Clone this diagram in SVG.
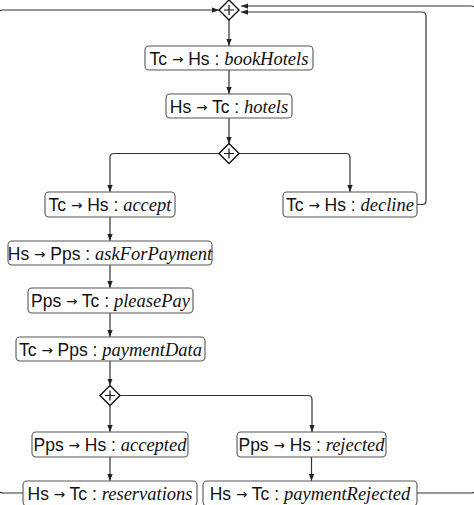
<svg xmlns="http://www.w3.org/2000/svg" width="474" height="505" viewBox="0 0 474 505">
<defs>
<style>
.box{fill:#fff;stroke:#555;stroke-width:1.1}
.gw{fill:#fff;stroke:#111;stroke-width:1.4}
.plus{stroke:#111;stroke-width:1.2}
.c{fill:none;stroke:#333;stroke-width:1.2}
.a{marker-end:url(#ah)}
text{font-size:17.5px;fill:#111;text-anchor:middle}
.r{font-family:"Liberation Sans","DejaVu Sans",sans-serif}
.ar{font-family:"DejaVu Sans",sans-serif;font-size:13.5px}
.m{font-family:"Liberation Serif","DejaVu Serif",serif;font-style:italic;font-size:18.5px}
</style>
<marker id="ah" viewBox="0 0 8 6" refX="8" refY="3" markerWidth="7" markerHeight="5.5" markerUnits="userSpaceOnUse" orient="auto">
<path d="M0,0 L8,3 L0,6 z" fill="#222"/>
</marker>
</defs>
<g id="connectors">
<path class="c a" d="M229,20 V46"/>
<path class="c a" d="M229,70 V94"/>
<path class="c a" d="M229,118 V144"/>
<path class="c a" d="M219,153.5 H114 Q110,153.5 110,157.5 V192"/>
<path class="c a" d="M239,153.5 H346 Q350,153.5 350,157.5 V192"/>
<path class="c a" d="M110,217 V241"/>
<path class="c a" d="M110,265 V288"/>
<path class="c a" d="M110,313 V337"/>
<path class="c a" d="M110,361 V385.5"/>
<path class="c a" d="M110,405.5 V432"/>
<path class="c a" d="M120,395.5 H308 Q312,395.5 312,399.5 V432"/>
<path class="c a" d="M110,457 V481"/>
<path class="c a" d="M311.5,457 V481"/>
<path class="c a" d="M417,204.5 H422 Q426,204.5 426,200.5 V16 Q426,12 422,12 H241"/>
<path class="c a" d="M23,493 H3 Q-2,493 -2,488 V15 Q-2,10 3,10 H219"/>
<path class="c a" d="M417,493 H471 Q476,493 476,488 V11 Q476,6 471,6 H241"/>
</g>
<g id="gw1"><path class="gw" d="M229,0 L239,10 L229,20 L219,10 z"/><path class="plus" d="M224,10 H234 M229,5 V15"/></g>
<g id="gw2"><path class="gw" d="M229,143.5 L239,153.5 L229,163.5 L219,153.5 z"/><path class="plus" d="M224,153.5 H234 M229,148.5 V158.5"/></g>
<g id="gw3"><path class="gw" d="M110,385.5 L120,395.5 L110,405.5 L100,395.5 z"/><path class="plus" d="M105,395.5 H115 M110,390.5 V400.5"/></g>
<g id="bookHotels"><rect class="box" x="145" y="46" width="168" height="24" rx="4"/><text x="229" y="64.5"><tspan class="r">Tc </tspan><tspan class="ar" dy="-1">→</tspan><tspan class="r" dy="1"> Hs : </tspan><tspan class="m">bookHotels</tspan></text></g>
<g id="hotels"><rect class="box" x="166" y="94" width="126" height="24" rx="4"/><text x="229" y="112.5"><tspan class="r">Hs </tspan><tspan class="ar" dy="-1">→</tspan><tspan class="r" dy="1"> Tc : </tspan><tspan class="m">hotels</tspan></text></g>
<g id="accept"><rect class="box" x="45" y="192" width="130" height="25" rx="4"/><text x="110" y="211"><tspan class="r">Tc </tspan><tspan class="ar" dy="-1">→</tspan><tspan class="r" dy="1"> Hs : </tspan><tspan class="m">accept</tspan></text></g>
<g id="decline"><rect class="box" x="283" y="192" width="134" height="25" rx="4"/><text x="350" y="211"><tspan class="r">Tc </tspan><tspan class="ar" dy="-1">→</tspan><tspan class="r" dy="1"> Hs : </tspan><tspan class="m">decline</tspan></text></g>
<g id="askForPayment"><rect class="box" x="8" y="241" width="204" height="24" rx="4"/><text x="110" y="259.5"><tspan class="r">Hs </tspan><tspan class="ar" dy="-1">→</tspan><tspan class="r" dy="1"> Pps : </tspan><tspan class="m">askForPayment</tspan></text></g>
<g id="pleasePay"><rect class="box" x="28" y="288" width="165" height="25" rx="4"/><text x="110.5" y="307"><tspan class="r">Pps </tspan><tspan class="ar" dy="-1">→</tspan><tspan class="r" dy="1"> Tc : </tspan><tspan class="m">pleasePay</tspan></text></g>
<g id="paymentData"><rect class="box" x="16" y="337" width="189" height="24" rx="4"/><text x="110.5" y="355.5"><tspan class="r">Tc </tspan><tspan class="ar" dy="-1">→</tspan><tspan class="r" dy="1"> Pps : </tspan><tspan class="m">paymentData</tspan></text></g>
<g id="accepted"><rect class="box" x="32" y="432" width="156" height="25" rx="4"/><text x="110" y="451"><tspan class="r">Pps </tspan><tspan class="ar" dy="-1">→</tspan><tspan class="r" dy="1"> Hs : </tspan><tspan class="m">accepted</tspan></text></g>
<g id="rejected"><rect class="box" x="237" y="432" width="149" height="25" rx="4"/><text x="311.5" y="451"><tspan class="r">Pps </tspan><tspan class="ar" dy="-1">→</tspan><tspan class="r" dy="1"> Hs : </tspan><tspan class="m">rejected</tspan></text></g>
<g id="reservations"><rect class="box" x="23" y="481" width="174" height="25" rx="4"/><text x="110" y="500"><tspan class="r">Hs </tspan><tspan class="ar" dy="-1">→</tspan><tspan class="r" dy="1"> Tc : </tspan><tspan class="m">reservations</tspan></text></g>
<g id="paymentRejected"><rect class="box" x="203" y="481" width="214" height="25" rx="4"/><text x="310" y="500"><tspan class="r">Hs </tspan><tspan class="ar" dy="-1">→</tspan><tspan class="r" dy="1"> Tc : </tspan><tspan class="m">paymentRejected</tspan></text></g>
</svg>
